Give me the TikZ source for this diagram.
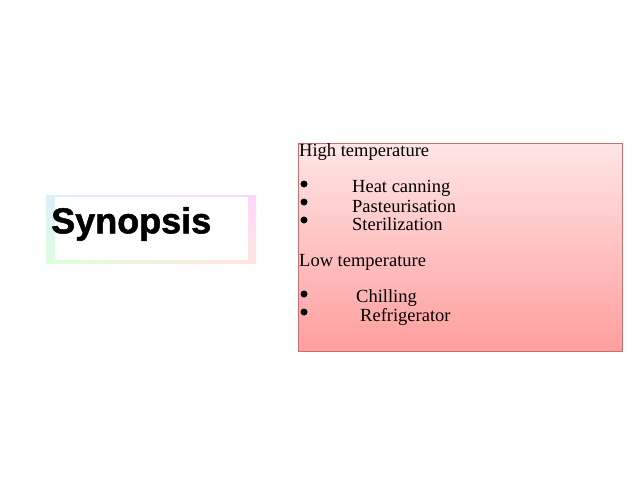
\documentclass[tikz,border=0pt]{standalone}
\usepackage{fontspec}
\setmainfont{Liberation Serif}
\newfontfamily\boldsans{Liberation Sans}[BoldFeatures={FakeBold=1.5}]
\begin{document}
\begin{tikzpicture}[x=1pt,y=-1pt,
  txt/.style={anchor=west,inner sep=0,font=\fontsize{18.5}{20}\selectfont},
  bul/.style={circle,fill=black,inner sep=0,minimum size=7}]
\useasboundingbox (0,0) rectangle (638,479);
\fill[white] (0,0) rectangle (638,479);
% synopsis frame
\shade[left color=cyan!25, right color=magenta!20] (46,195) rectangle (256,263);
\shade[top color=magenta!12, bottom color=yellow!25,opacity=0.5] (46,195) rectangle (256,263);
\node[fill=white,minimum width=193,minimum height=63,anchor=north west,inner sep=0] (inner) at (55,197) {};
\node[anchor=west,inner sep=0,font=\boldsans\bfseries\fontsize{36}{38}\selectfont] (syn) at (51,224) {Synopsis};
% red box
\shade[top color=red!10, bottom color=red!38] (298,143) rectangle (622,351);
\draw[red!40!gray!80,line width=0.6] (298,143) rectangle (622,351);
\node[txt] (h) at (299,152) {High temperature};
\node[bul] (b1) at (304,184) {}; \node[txt] (t1) at (352,188) {Heat canning};
\node[bul] (b2) at (304,202) {}; \node[txt] (t2) at (352,206) {Pasteurisation};
\node[bul] (b3) at (304,220) {}; \node[txt] (t3) at (352,224) {Sterilization};
\node[txt] (l) at (299,262) {Low temperature};
\node[bul] (b4) at (304,294) {}; \node[txt] (t4) at (356,298) {Chilling};
\node[bul] (b5) at (304,312) {}; \node[txt] (t5) at (360,317) {Refrigerator};
\end{tikzpicture}
\end{document}
